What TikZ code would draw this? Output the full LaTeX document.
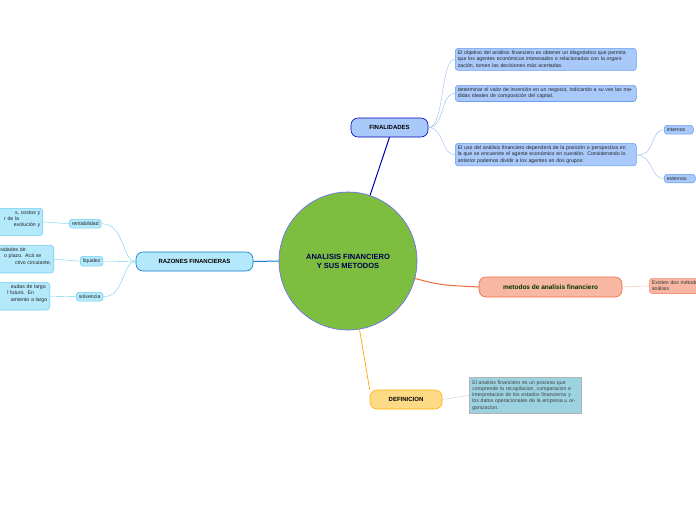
\documentclass[tikz,border=0pt]{standalone}
\usepackage{fontspec}
\setmainfont{Liberation Sans}
\definecolor{cgreen}{HTML}{7DBE41}
\definecolor{lblue}{HTML}{A8C9FA}
\definecolor{dblue}{HTML}{6B9DF0}
\definecolor{lcyan}{HTML}{B4E8FB}
\definecolor{dcyan}{HTML}{6FCFF0}
\definecolor{salm}{HTML}{F8B7A3}
\definecolor{dsalm}{HTML}{F06A3C}
\definecolor{yel}{HTML}{FDDB86}
\definecolor{teal2}{HTML}{9DD3E1}
\begin{document}
\begin{tikzpicture}[x=1pt,y=-1pt,
 lb/.style={rounded corners=3pt,line width=0.6pt,align=left,inner sep=2.5pt,font=\fontsize{5.2}{6.3}\selectfont,anchor=north west},
 blu/.style={lb,fill=lblue,draw=dblue,text=black!85},
 cy/.style={lb,fill=lcyan,draw=dcyan,text=black!85},
 mainb/.style={rounded corners=7pt,line width=0.6pt,font=\bfseries\fontsize{6}{7}\selectfont,anchor=center},
 con/.style={line width=0.4pt}]
\useasboundingbox (0,0) rectangle (696,520);
\clip (0,0) rectangle (696,520);
\fill[white] (0,0) rectangle (696,520);
\coordinate (cf1) at (440,0);
\coordinate (cf2) at (650,0);
\coordinate (cl) at (125,0);
% center
\node[circle,minimum size=138pt,fill=cgreen,draw=blue!60,line width=0.6pt,align=center,font=\bfseries\fontsize{7.5}{9}\selectfont,text=blue!30!black] (c) at (348,261) {ANALISIS FINANCIERO\\Y SUS METODOS};
% main nodes
\node[mainb,fill=lblue,draw=blue!75!black,minimum width=77pt,minimum height=19pt,text=black] (fin) at (389.5,127.5) {FINALIDADES};
\node[mainb,fill=lcyan,draw=cyan!60!blue,minimum width=117pt,minimum height=19pt,text=black] (raz) at (194.5,261.5) {RAZONES FINANCIERAS};
\node[mainb,fill=salm,draw=dsalm,minimum width=143pt,minimum height=20pt,text=green!20!black,font=\bfseries\fontsize{6.5}{8}\selectfont] (met) at (550.5,287) {metodos de analisis financiero};
\node[mainb,fill=yel,draw=orange!60!yellow,minimum width=72pt,minimum height=19pt,text=black] (def) at (406,399.5) {DEFINICION};
\draw[blue!70!black,line width=1pt] (c) -- (fin.south);
\draw[cyan!60!blue,line width=1pt] (c.west) -- (raz.east);
\draw[dsalm,line width=1pt] (c) .. controls (440,285) .. (met.west);
\draw[orange!70!yellow,line width=0.7pt] (c) -- (def.north west);
% definition text
\node[draw=gray!60,fill=teal2,line width=0.6pt,anchor=north west,text width=106pt,align=left,inner sep=3pt,font=\fontsize{5.2}{6.3}\selectfont,text=black!75] (dt) at (469,377) {El analisis financiero es un proceso que comprende la recopilacion, comparacion e interpretacion de los estados financieros y los datos operacionales de la empresa u organizacion.};
\draw[con,gray!40] (def.east) -- (dt.west);
% existen
\node[lb,fill=salm,draw=salm!80!red,text=black!80,text width=70pt] (ex) at (649,278) {Existen dos métodos de\\análisis};
\draw[con,salm] (met.east) -- (ex.west);
% finalidades children
\node[blu,text width=176pt] (f1) at (455,48) {El objetivo del análisis financiero es obtener un diagnóstico que permita que los agentes económicos interesados o relacionados con la organización, tomen las decisiones más acertadas.};
\node[blu,text width=176pt] (f2) at (455,85) {determinar el valor de inversión en un negocio, indicando a su ves las medidas ideales de composición del capital.};
\node[blu,text width=176pt] (f3) at (455,143) {El uso del análisis financiero dependerá de la posición o perspectiva en la que se encuentre el agente económico en cuestión. Considerando lo anterior podemos dividir a los agentes en dos grupos:};
\foreach \n in {f1,f2,f3}
 \draw[con,dblue!70] (fin.east) .. controls (445,127.5) and (cf1|-\n.west) .. (\n.west);
\node[blu,text width=24pt] (in) at (664,125) {internos};
\node[blu,text width=26pt] (ext) at (664,174) {externos};
\foreach \n in {in,ext}
 \draw[con,dblue!70] (f3.east) .. controls (655,158) and (cf2|-\n.west) .. (\n.west);
% left
\node[cy] (re) at (69,219) {rentabilidad};
\node[cy] (li) at (80,256) {liquidez};
\node[cy] (so) at (76,292) {solvencia};
\foreach \n in {re,li,so}
 \draw[con,dcyan] (raz.west) .. controls (122,261.5) and (cl|-\n.east) .. (\n.east);
\node[cy,text width=70pt,anchor=north east] (la) at (43,208) {\mbox{}\hfill s, costos y\\\mbox{}\hfill r de la\hphantom{ costos y}\\\mbox{}\hfill evolución y\\\mbox{}};
\node[cy,text width=80pt,anchor=north east] (lb) at (54,245) {\mbox{}\hfill ecesidades de\hphantom{ circulante,}\\\mbox{}\hfill o plazo. Acá se\hphantom{ circ}\\\mbox{}\hfill ctivo circulante,\\\mbox{}};
\node[cy,text width=80pt,anchor=north east] (lc) at (50,282) {\mbox{}\hfill eudas de largo\hphantom{.}\\\mbox{}\hfill l futuro. En\hphantom{ largo}\\\mbox{}\hfill amiento a largo\\\mbox{}};
\draw[con,dcyan] (re.west) -- (la.east);
\draw[con,dcyan] (li.west) -- (lb.east);
\draw[con,dcyan] (so.west) -- (lc.east);
\end{tikzpicture}
\end{document}
